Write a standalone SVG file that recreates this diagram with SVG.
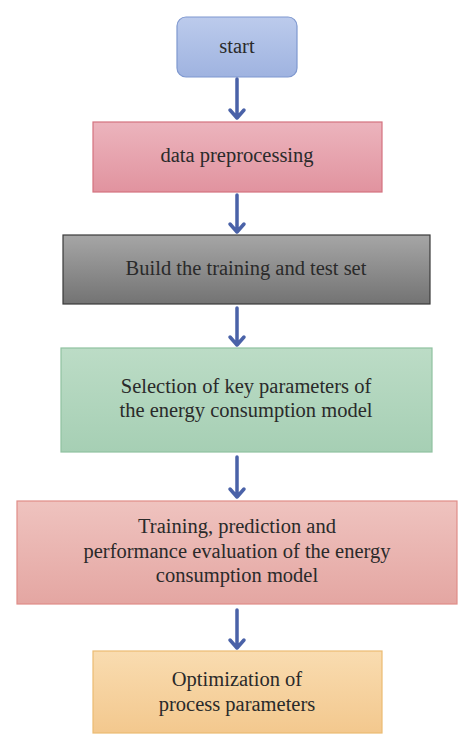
<svg xmlns="http://www.w3.org/2000/svg" width="474" height="750" viewBox="0 0 474 750">
<defs>
<linearGradient id="gBlue" x1="0" y1="0" x2="0" y2="1"><stop offset="0" stop-color="#bccbec"/><stop offset="1" stop-color="#9fb3e0"/></linearGradient>
<linearGradient id="gPink" x1="0" y1="0" x2="0" y2="1"><stop offset="0" stop-color="#ecb4bd"/><stop offset="1" stop-color="#e1939f"/></linearGradient>
<linearGradient id="gGray" x1="0" y1="0" x2="0" y2="1"><stop offset="0" stop-color="#a6a6a6"/><stop offset="1" stop-color="#737373"/></linearGradient>
<linearGradient id="gGreen" x1="0" y1="0" x2="0" y2="1"><stop offset="0" stop-color="#bcdcc6"/><stop offset="1" stop-color="#a6cfb4"/></linearGradient>
<linearGradient id="gSalmon" x1="0" y1="0" x2="0" y2="1"><stop offset="0" stop-color="#efc3bf"/><stop offset="1" stop-color="#e4a6a2"/></linearGradient>
<linearGradient id="gOrange" x1="0" y1="0" x2="0" y2="1"><stop offset="0" stop-color="#f9dcb0"/><stop offset="1" stop-color="#f3c88e"/></linearGradient>
</defs>
<style>
text{font-family:"Liberation Serif","Times New Roman",serif;font-size:20.5px;fill:#2a2a2a;text-anchor:middle}
.conn{stroke:#4a62a8;stroke-width:3.5;fill:none;stroke-linecap:round;stroke-linejoin:round}
</style>
<rect width="474" height="750" fill="#ffffff"/>
<g id="start">
<rect x="177" y="17" width="120" height="60" rx="9" fill="url(#gBlue)" stroke="#7f98cf" stroke-width="1.2"/>
<text x="237" y="53">start</text>
</g>
<g id="preprocessing">
<rect x="93" y="122" width="289" height="70" fill="url(#gPink)" stroke="#d4727f" stroke-width="1.2"/>
<text x="237" y="162">data preprocessing</text>
</g>
<g id="build">
<rect x="63" y="235" width="367" height="69" fill="url(#gGray)" stroke="#3a3a3a" stroke-width="1.2"/>
<text x="246" y="275">Build the training and test set</text>
</g>
<g id="selection">
<rect x="61" y="348" width="371" height="104" fill="url(#gGreen)" stroke="#8fc2a0" stroke-width="1.2"/>
<text x="246" y="393">Selection of key parameters of</text>
<text x="246" y="417">the energy consumption model</text>
</g>
<g id="training">
<rect x="17" y="501" width="440" height="103" fill="url(#gSalmon)" stroke="#e08d88" stroke-width="1.2"/>
<text x="237" y="533">Training, prediction and</text>
<text x="237" y="558">performance evaluation of the energy</text>
<text x="237" y="582">consumption model</text>
</g>
<g id="optimization">
<rect x="93" y="651" width="289" height="82" fill="url(#gOrange)" stroke="#ebbb72" stroke-width="1.2"/>
<text x="237" y="686">Optimization of</text>
<text x="237" y="711">process parameters</text>
</g>
<g id="connectors">
<path class="conn" d="M237 79V118M230 110L237 118L244 110"/>
<path class="conn" d="M237 195V232M230 224L237 232L244 224"/>
<path class="conn" d="M237 308V345M230 337L237 345L244 337"/>
<path class="conn" d="M237 457V497M230 489L237 497L244 489"/>
<path class="conn" d="M237 610V648M230 640L237 648L244 640"/>
</g>
</svg>
